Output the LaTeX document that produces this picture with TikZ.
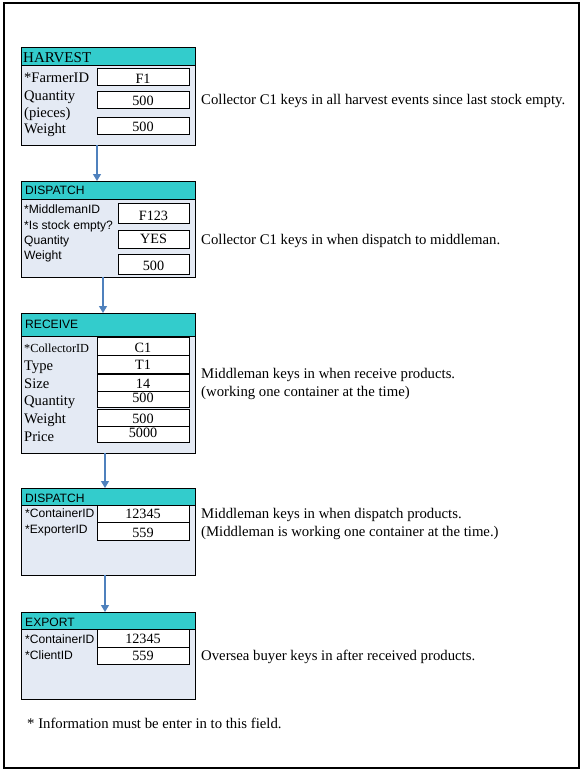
\documentclass[tikz,border=0pt]{standalone}
\usepackage{fontspec}
\setmainfont{Liberation Serif}
\newfontfamily\arialf{Liberation Sans}
\usetikzlibrary{arrows.meta}
\definecolor{hdrc}{HTML}{33CCCC}
\definecolor{bodyc}{HTML}{E4EAF4}
\definecolor{arrc}{HTML}{4F81BD}
\begin{document}
\begin{tikzpicture}[x=1bp,y=-1bp,
  frm/.style={draw=black, line width=1.3bp},
  panel/.style={draw=black, line width=0.9bp, fill=bodyc, anchor=north west, inner sep=0pt, outer sep=0pt, minimum width=174bp},
  hbar/.style={draw=black, line width=0.9bp, fill=hdrc, anchor=north west, inner sep=0pt, outer sep=0pt, minimum width=174bp},
  fld/.style={draw=black, line width=0.9bp, fill=white, anchor=north west, inner sep=0pt, outer sep=0pt, minimum width=92bp},
  sfld/.style={fld, minimum width=71bp},
  lbl/.style={anchor=base west, inner sep=0pt, font=\fontsize{14.6bp}{16bp}\selectfont},
  smalllbl/.style={anchor=base west, inner sep=0pt, font=\fontsize{12.3bp}{14bp}\selectfont},
  slbl/.style={anchor=base west, inner sep=0pt, font=\arialf\fontsize{12.1bp}{14bp}\selectfont},
  hdrtxt/.style={anchor=base west, inner sep=0pt, font=\arialf\fontsize{12.1bp}{14bp}\selectfont},
  val/.style={anchor=base, inner sep=0pt, font=\fontsize{14.2bp}{16bp}\selectfont},
  note/.style={anchor=base west, inner sep=0pt, font=\fontsize{14.75bp}{17bp}\selectfont},
  arr/.style={draw=arrc, line width=1.3bp, -{Triangle[width=8bp,length=7bp]}}
]
\useasboundingbox (0,0) rectangle (583,771);
\node[frm, anchor=north west, inner sep=0pt, outer sep=0pt, minimum width=575bp, minimum height=765bp] (frame) at (4,3) {};

% HARVEST
\node[panel, minimum height=98bp] (harvest) at (21,47) {};
\node[hbar, minimum height=18bp] (harvesth) at (21,47) {};
\node[anchor=base west, inner sep=0pt, font=\fontsize{15bp}{16bp}\selectfont] (harvestt) at (23,63) {HARVEST};
\node[fld, minimum height=17bp] (hf1) at (97,68) {};
\node[fld, minimum height=17bp] (hf2) at (97,91) {};
\node[fld, minimum height=17bp] (hf3) at (97,117) {};
\node[val] (hv1) at (143,83) {F1};
\node[val] (hv2) at (143,105) {500};
\node[val] (hv3) at (143,131) {500};
\node[lbl] (hl1) at (24,82) {*FarmerID};
\node[lbl] (hl2) at (24,100) {Quantity};
\node[lbl] (hl3) at (24,117) {(pieces)};
\node[lbl] (hl4) at (24,133) {Weight};
\node[note] (hn) at (201,104) {Collector C1 keys in all harvest events since last stock empty.};

% DISPATCH 1
\node[panel, minimum height=96bp] (disp1) at (21,181) {};
\node[hbar, minimum height=18bp] (disp1h) at (21,181) {};
\node[hdrtxt] (disp1t) at (25,194) {DISPATCH};
\node[sfld, minimum height=20bp] (df1) at (118,203) {};
\node[sfld, minimum height=18bp] (df2) at (118,230) {};
\node[sfld, minimum height=20bp] (df3) at (118,254) {};
\node[val] (dv1) at (153.5,220) {F123};
\node[val] (dv2) at (153.5,243) {YES};
\node[val] (dv3) at (153.5,270) {500};
\node[slbl] (dl1) at (24,213) {*MiddlemanID};
\node[slbl] (dl2) at (24,229) {*Is stock empty?};
\node[slbl] (dl3) at (24,244) {Quantity};
\node[slbl] (dl4) at (24,259) {Weight};
\node[note] (dn) at (201,244) {Collector C1 keys in when dispatch to middleman.};

% RECEIVE
\node[panel, minimum height=140bp] (recv) at (21,313) {};
\node[hbar, minimum height=23bp] (recvh) at (21,313) {};
\node[hdrtxt] (recvt) at (25,328) {RECEIVE};
\node[fld, minimum height=18bp] (rf1) at (97,337) {};
\node[fld, minimum height=18bp] (rf2) at (97,355) {};
\node[fld, minimum height=17bp] (rf3) at (97,374) {};
\node[fld, minimum height=16bp] (rf4) at (97,391) {};
\node[fld, minimum height=17bp] (rf5) at (97,409) {};
\node[fld, minimum height=16bp] (rf6) at (97,426) {};
\node[val] (rv1) at (143,352) {C1};
\node[val] (rv2) at (143,369) {T1};
\node[val] (rv3) at (143,388) {14};
\node[val] (rv4) at (143,402) {500};
\node[val] (rv5) at (143,423) {500};
\node[val] (rv6) at (143,437) {5000};
\node[smalllbl] (rl1) at (24,352) {*CollectorID};
\node[lbl] (rl2) at (24,370) {Type};
\node[lbl] (rl3) at (24,388) {Size};
\node[lbl] (rl4) at (24,405) {Quantity};
\node[lbl] (rl5) at (24,423) {Weight};
\node[lbl] (rl6) at (24,441) {Price};
\node[note] (rn1) at (201,378) {Middleman keys in when receive products.};
\node[note] (rn2) at (201,396) {(working one container at the time)};

% DISPATCH 2
\node[panel, minimum height=87bp] (disp2) at (21,488) {};
\node[hbar, minimum height=17bp] (disp2h) at (21,488) {};
\node[hdrtxt] (disp2t) at (25,502) {DISPATCH};
\node[fld, minimum height=17bp] (ef1) at (97,505) {};
\node[fld, minimum height=18bp] (ef2) at (97,522) {};
\node[val] (ev1) at (143,518) {12345};
\node[val] (ev2) at (143,537) {559};
\node[slbl] (el1) at (25,517) {*ContainerID};
\node[slbl] (el2) at (25,533) {*ExporterID};
\node[note] (en1) at (201,518) {Middleman keys in when dispatch products.};
\node[note] (en2) at (201,536) {(Middleman is working one container at the time.)};

% EXPORT
\node[panel, minimum height=87bp] (expo) at (21,612) {};
\node[hbar, minimum height=17bp] (expoh) at (21,612) {};
\node[hdrtxt] (expot) at (25,626) {EXPORT};
\node[fld, minimum height=18bp] (xf1) at (97,629) {};
\node[fld, minimum height=17bp] (xf2) at (97,647) {};
\node[val] (xv1) at (143,643) {12345};
\node[val] (xv2) at (143,660) {559};
\node[slbl] (xl1) at (25,643) {*ContainerID};
\node[slbl] (xl2) at (25,659) {*ClientID};
\node[note] (xn) at (201,660) {Oversea buyer keys in after received products.};

\node[note] (foot) at (27,728) {* Information must be enter in to this field.};

% connectors
\draw[arr] ([xshift=-11bp]harvest.south) -- ([xshift=-11bp]disp1h.north);
\draw[arr] ([xshift=-5bp]disp1.south) -- ([xshift=-5bp]recvh.north);
\draw[arr] ([xshift=-3bp]recv.south) -- ([xshift=-3bp]disp2h.north);
\draw[arr] ([xshift=-3bp]disp2.south) -- ([xshift=-3bp]expoh.north);
\end{tikzpicture}
\end{document}
